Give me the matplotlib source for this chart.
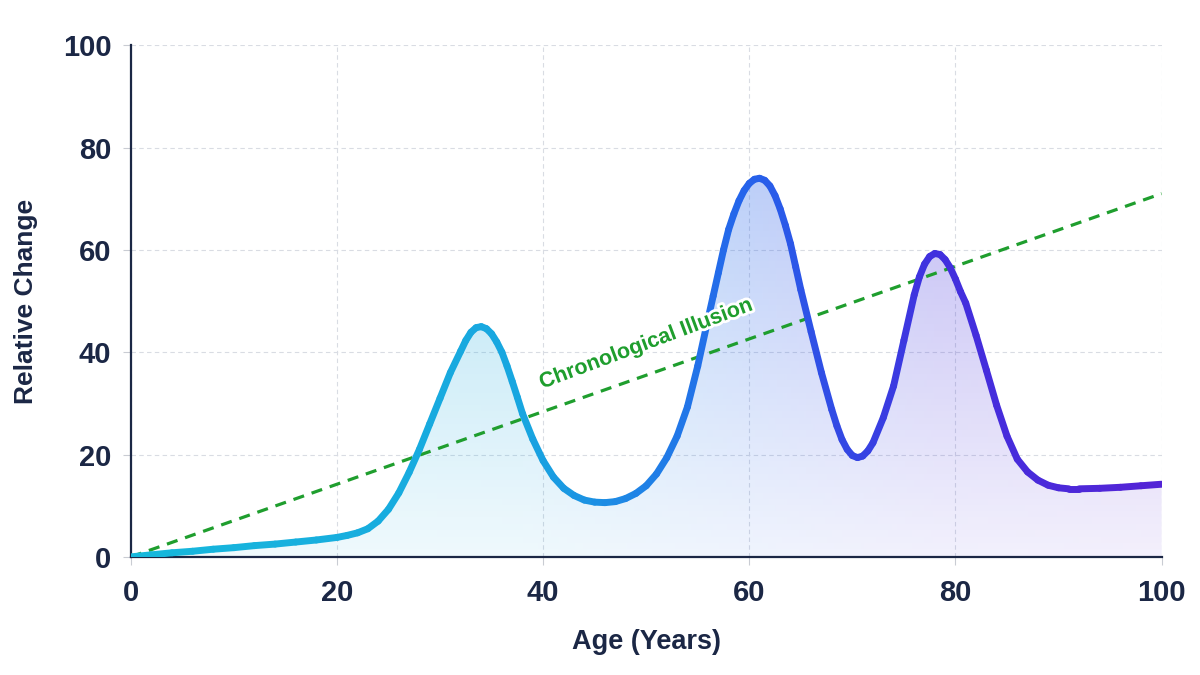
import numpy as np
import matplotlib
matplotlib.use("Agg")
import matplotlib.pyplot as plt
from matplotlib.collections import LineCollection
from matplotlib.colors import LinearSegmentedColormap
import matplotlib.patheffects as pe

# Data
age = [0, 2, 4, 6, 8, 10, 12, 14, 16, 18, 20, 21, 22, 23, 24, 25, 26, 27, 28, 29,
       30, 31, 32, 32.5, 33, 33.5, 34, 34.5, 35, 35.5, 36, 36.5, 37, 37.5, 38, 39,
       40, 41, 42, 43, 44, 45, 46, 47, 48, 49, 50, 51, 52, 53, 54, 55, 56, 56.5,
       57, 57.5, 58, 58.5, 59, 59.5, 60, 60.5, 61, 61.5, 62, 62.5, 63, 63.5, 64,
       64.5, 65, 66, 67, 68, 68.5, 69, 69.5, 70, 70.5, 71, 71.5, 72, 73, 74, 75,
       76, 76.5, 77, 77.5, 78, 78.5, 79, 79.5, 80, 80.5, 81, 82, 83, 84, 85, 86,
       87, 88, 89, 90, 91, 92, 94, 96, 98, 100]
change = [0, 0.4, 0.8, 1.1, 1.5, 1.8, 2.2, 2.5, 2.9, 3.3, 3.8, 4.2, 4.7, 5.5, 7,
          9.3, 12.5, 16.5, 21, 26, 31, 36, 40.2, 42.3, 43.9, 44.8, 45, 44.6, 43.6,
          42, 40, 37.3, 34.3, 31.2, 28, 23, 18.8, 15.6, 13.4, 12, 11.1, 10.7, 10.6,
          10.8, 11.4, 12.4, 13.9, 16.2, 19.4, 23.6, 29.3, 37.3, 46.5, 51, 55.5, 60,
          64, 67, 69.6, 71.6, 73, 73.8, 74, 73.6, 72.5, 70.6, 68, 64.8, 61.2, 56.7,
          52.2, 44, 36, 28.8, 25.6, 22.9, 21, 19.8, 19.4, 19.7, 20.7, 22.3, 27.2,
          33.4, 42.3, 51.2, 54.7, 57.2, 58.7, 59.3, 59.1, 58.1, 56.5, 54.3, 51.8,
          49.6, 43.3, 36.5, 29.6, 23.6, 19.1, 16.6, 15, 14, 13.5, 13.3, 13.3, 13.4,
          13.6, 13.9, 14.2]

illusion_x = [0, 100]
illusion_y = [0, 71]

xticks = [0, 20, 40, 60, 80, 100]
yticks = [0, 20, 40, 60, 80, 100]

navy = "#1b2745"
green = "#1f9e2e"

# Colour ramp along the age axis: cyan -> blue -> purple
cmap = LinearSegmentedColormap.from_list(
    "age_ramp", [(0.0, "#16b8dc"), (0.38, "#18a6e0"), (0.6, "#2563eb"),
                 (0.78, "#4030de"), (1.0, "#5424d6")])

plt.rcParams['font.family'] = ['Liberation Sans', 'DejaVu Sans']

fig = plt.figure(figsize=(12, 6.75), dpi=100)
ax = fig.add_axes([0.109, 0.175, 0.859, 0.758])

# Grid
ax.grid(True, color="#d9dce3", linestyle=(0, (4, 3)), linewidth=0.8)
ax.set_axisbelow(True)

# Gradient fill under the curve
xs = np.array(age)
ys = np.array(change)
ramp = cmap(np.linspace(0, 1, 400))[:, :3]
alpha = np.linspace(0.07, 0.32, 200)[:, None]
img = np.zeros((200, 400, 4))
img[:, :, :3] = ramp[None, :, :]
img[:, :, 3] = alpha
poly = ax.fill_between(xs, ys, 0, color="none")
im = ax.imshow(img, extent=[0, 100, 0, 78], origin="lower", aspect="auto", zorder=1)
im.set_clip_path(poly.get_paths()[0], transform=ax.transData)

# Curve with colour along x
pts = np.column_stack([xs, ys]).reshape(-1, 1, 2)
segs = np.concatenate([pts[:-1], pts[1:]], axis=1)
lc = LineCollection(segs, cmap=cmap, linewidth=5, capstyle="round",
                    joinstyle="round", zorder=4)
lc.set_array((xs[:-1] + xs[1:]) / 2 / 100)
lc.set_clim(0, 1)
ax.add_collection(lc)

# Chronological illusion line
ax.plot(illusion_x, illusion_y, color=green, linewidth=2.3,
        linestyle=(0, (3.5, 2.5)), zorder=3)
ax.text(50, 41.6, "Chronological Illusion", color=green, fontsize=15.5,
        fontweight="bold", rotation=20.5, ha="center", va="center", zorder=5,
        path_effects=[pe.withStroke(linewidth=4, foreground="white")])

# Axes
ax.set_xlim(0, 100)
ax.set_ylim(0, 100)
ax.set_xticks(xticks)
ax.set_yticks(yticks)
ax.tick_params(colors="#c9ccd3", labelcolor=navy, labelsize=21, length=6, width=0.8)
ax.tick_params(axis="y", pad=8)
ax.tick_params(axis="x", pad=10)
for lab in ax.get_xticklabels() + ax.get_yticklabels():
    lab.set_fontweight("bold")
ax.spines["top"].set_visible(False)
ax.spines["right"].set_visible(False)
ax.spines["left"].set_color(navy)
ax.spines["bottom"].set_color(navy)
ax.spines["left"].set_linewidth(1.6)
ax.spines["bottom"].set_linewidth(1.6)

ax.set_xlabel("Age (Years)", fontsize=19.5, fontweight="bold", color=navy, labelpad=16)
ax.set_ylabel("Relative Change", fontsize=19, fontweight="bold", color=navy, labelpad=18)

fig.savefig("out.png", dpi=100, facecolor="white")
